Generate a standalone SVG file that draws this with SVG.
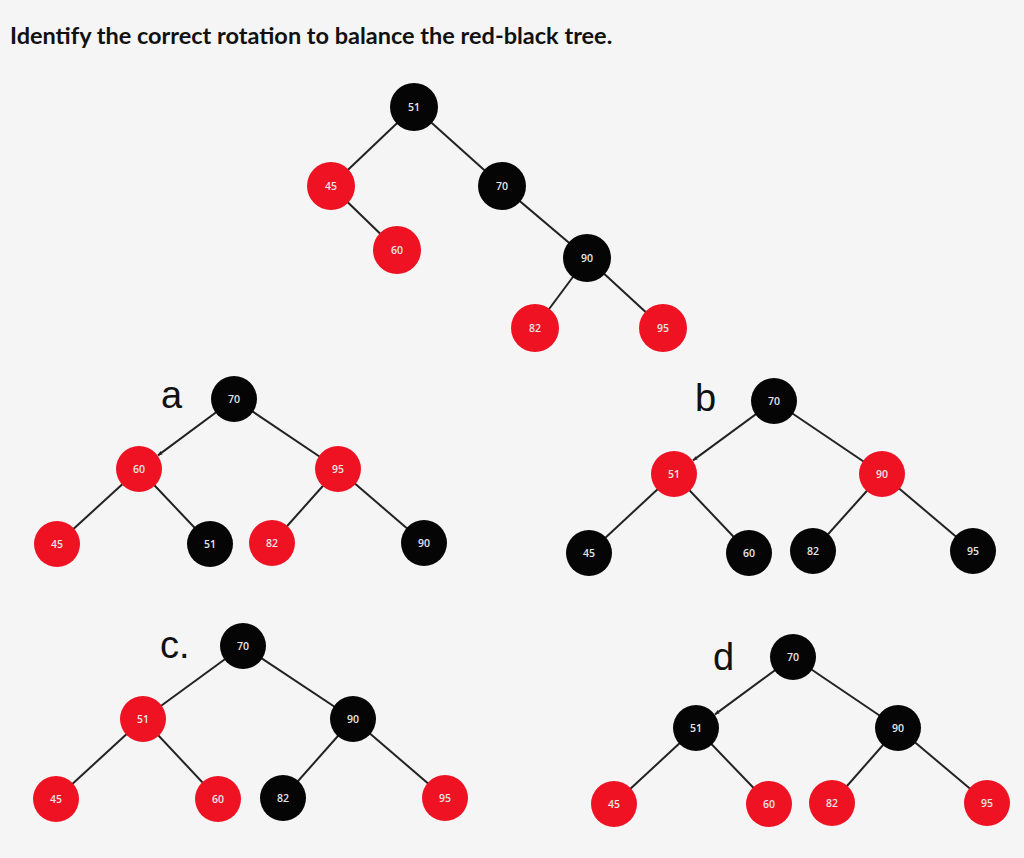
<svg xmlns="http://www.w3.org/2000/svg" width="1024" height="858" viewBox="0 0 1024 858">
<style>
.e{stroke:#222;stroke-width:2;fill:none}
.r{fill:#ee1223}
.b{fill:#050505}
.t{font-family:"Open Sans","Liberation Sans",sans-serif;font-size:10.5px;font-weight:600;fill:#e6e6e6;text-anchor:middle;dominant-baseline:central}
.lbl{font-family:"Liberation Sans",Arial,sans-serif;font-size:38px;fill:#111}
.title{font-family:Lato,"Liberation Sans",sans-serif;font-weight:bold;font-size:23.5px;fill:#111}
</style>
<defs>
<marker id="ah" markerUnits="userSpaceOnUse" markerWidth="5" markerHeight="5" refX="4.5" refY="2.5" orient="auto">
<path d="M0,0.5 L4.5,2.5 L0,4.5 Z" fill="#222"/>
</marker>
</defs>
<rect width="1024" height="858" fill="#f5f5f5"/>
<text class="title" x="10" y="44">Identify the correct rotation to balance the red-black tree.</text>

<g id="connectors">
<line class="e" x1="414" y1="107" x2="331" y2="186"/>
<line class="e" x1="414" y1="107" x2="502" y2="186"/>
<line class="e" x1="331" y1="186" x2="397" y2="250"/>
<line class="e" x1="502" y1="186" x2="587" y2="258"/>
<line class="e" x1="587" y1="258" x2="535" y2="328"/>
<line class="e" x1="587" y1="258" x2="663" y2="328"/>
<line class="e" x1="234" y1="399" x2="158" y2="455.4" marker-end="url(#ah)"/>
<line class="e" x1="234" y1="399" x2="338" y2="469"/>
<line class="e" x1="139" y1="469" x2="57" y2="544"/>
<line class="e" x1="139" y1="469" x2="210" y2="544"/>
<line class="e" x1="338" y1="469" x2="272" y2="543"/>
<line class="e" x1="338" y1="469" x2="424" y2="543"/>
<line class="e" x1="774" y1="401" x2="693" y2="460.4" marker-end="url(#ah)"/>
<line class="e" x1="774" y1="401" x2="882" y2="474"/>
<line class="e" x1="674" y1="474" x2="589" y2="553"/>
<line class="e" x1="674" y1="474" x2="749" y2="553"/>
<line class="e" x1="882" y1="474" x2="813" y2="551"/>
<line class="e" x1="882" y1="474" x2="973" y2="551"/>
<line class="e" x1="243" y1="646" x2="143" y2="719"/>
<line class="e" x1="243" y1="646" x2="353" y2="719"/>
<line class="e" x1="143" y1="719" x2="56" y2="799"/>
<line class="e" x1="143" y1="719" x2="218" y2="799"/>
<line class="e" x1="353" y1="719" x2="283" y2="798"/>
<line class="e" x1="353" y1="719" x2="445" y2="798"/>
<line class="e" x1="793" y1="657" x2="715" y2="714.4" marker-end="url(#ah)"/>
<line class="e" x1="793" y1="657" x2="898" y2="728"/>
<line class="e" x1="696" y1="728" x2="614" y2="804"/>
<line class="e" x1="696" y1="728" x2="769" y2="804"/>
<line class="e" x1="898" y1="728" x2="832" y2="803"/>
<line class="e" x1="898" y1="728" x2="987" y2="803"/>
</g>

<g id="main-tree">
<g id="m51"><circle class="b" cx="414" cy="107" r="24"/><text class="t" x="414" y="107">51</text></g>
<g id="m45"><circle class="r" cx="331" cy="186" r="24"/><text class="t" x="331" y="186">45</text></g>
<g id="m70"><circle class="b" cx="502" cy="186" r="24"/><text class="t" x="502" y="186">70</text></g>
<g id="m60"><circle class="r" cx="397" cy="250" r="24"/><text class="t" x="397" y="250">60</text></g>
<g id="m90"><circle class="b" cx="587" cy="258" r="24"/><text class="t" x="587" y="258">90</text></g>
<g id="m82"><circle class="r" cx="535" cy="328" r="24"/><text class="t" x="535" y="328">82</text></g>
<g id="m95"><circle class="r" cx="663" cy="328" r="24"/><text class="t" x="663" y="328">95</text></g>
</g>

<g id="tree-a">
<text class="lbl" x="161" y="408">a</text>
<g id="a70"><circle class="b" cx="234" cy="399" r="23"/><text class="t" x="234" y="399">70</text></g>
<g id="a60"><circle class="r" cx="139" cy="469" r="23"/><text class="t" x="139" y="469">60</text></g>
<g id="a95"><circle class="r" cx="338" cy="469" r="23"/><text class="t" x="338" y="469">95</text></g>
<g id="a45"><circle class="r" cx="57" cy="544" r="23"/><text class="t" x="57" y="544">45</text></g>
<g id="a51"><circle class="b" cx="210" cy="544" r="23"/><text class="t" x="210" y="544">51</text></g>
<g id="a82"><circle class="r" cx="272" cy="543" r="23"/><text class="t" x="272" y="543">82</text></g>
<g id="a90"><circle class="b" cx="424" cy="543" r="23"/><text class="t" x="424" y="543">90</text></g>
</g>

<g id="tree-b">
<text class="lbl" x="695" y="411">b</text>
<g id="b70"><circle class="b" cx="774" cy="401" r="23"/><text class="t" x="774" y="401">70</text></g>
<g id="b51"><circle class="r" cx="674" cy="474" r="23"/><text class="t" x="674" y="474">51</text></g>
<g id="b90"><circle class="r" cx="882" cy="474" r="23"/><text class="t" x="882" y="474">90</text></g>
<g id="b45"><circle class="b" cx="589" cy="553" r="23"/><text class="t" x="589" y="553">45</text></g>
<g id="b60"><circle class="b" cx="749" cy="553" r="23"/><text class="t" x="749" y="553">60</text></g>
<g id="b82"><circle class="b" cx="813" cy="551" r="23"/><text class="t" x="813" y="551">82</text></g>
<g id="b95"><circle class="b" cx="973" cy="551" r="23"/><text class="t" x="973" y="551">95</text></g>
</g>

<g id="tree-c">
<text class="lbl" x="160" y="658">c.</text>
<g id="c70"><circle class="b" cx="243" cy="646" r="23"/><text class="t" x="243" y="646">70</text></g>
<g id="c51"><circle class="r" cx="143" cy="719" r="23"/><text class="t" x="143" y="719">51</text></g>
<g id="c90"><circle class="b" cx="353" cy="719" r="23"/><text class="t" x="353" y="719">90</text></g>
<g id="c45"><circle class="r" cx="56" cy="799" r="23"/><text class="t" x="56" y="799">45</text></g>
<g id="c60"><circle class="r" cx="218" cy="799" r="23"/><text class="t" x="218" y="799">60</text></g>
<g id="c82"><circle class="b" cx="283" cy="798" r="23"/><text class="t" x="283" y="798">82</text></g>
<g id="c95"><circle class="r" cx="445" cy="798" r="23"/><text class="t" x="445" y="798">95</text></g>
</g>

<g id="tree-d">
<text class="lbl" x="713" y="670">d</text>
<g id="d70"><circle class="b" cx="793" cy="657" r="23"/><text class="t" x="793" y="657">70</text></g>
<g id="d51"><circle class="b" cx="696" cy="728" r="23"/><text class="t" x="696" y="728">51</text></g>
<g id="d90"><circle class="b" cx="898" cy="728" r="23"/><text class="t" x="898" y="728">90</text></g>
<g id="d45"><circle class="r" cx="614" cy="804" r="23"/><text class="t" x="614" y="804">45</text></g>
<g id="d60"><circle class="r" cx="769" cy="804" r="23"/><text class="t" x="769" y="804">60</text></g>
<g id="d82"><circle class="r" cx="832" cy="803" r="23"/><text class="t" x="832" y="803">82</text></g>
<g id="d95"><circle class="r" cx="987" cy="803" r="23"/><text class="t" x="987" y="803">95</text></g>
</g>
</svg>
